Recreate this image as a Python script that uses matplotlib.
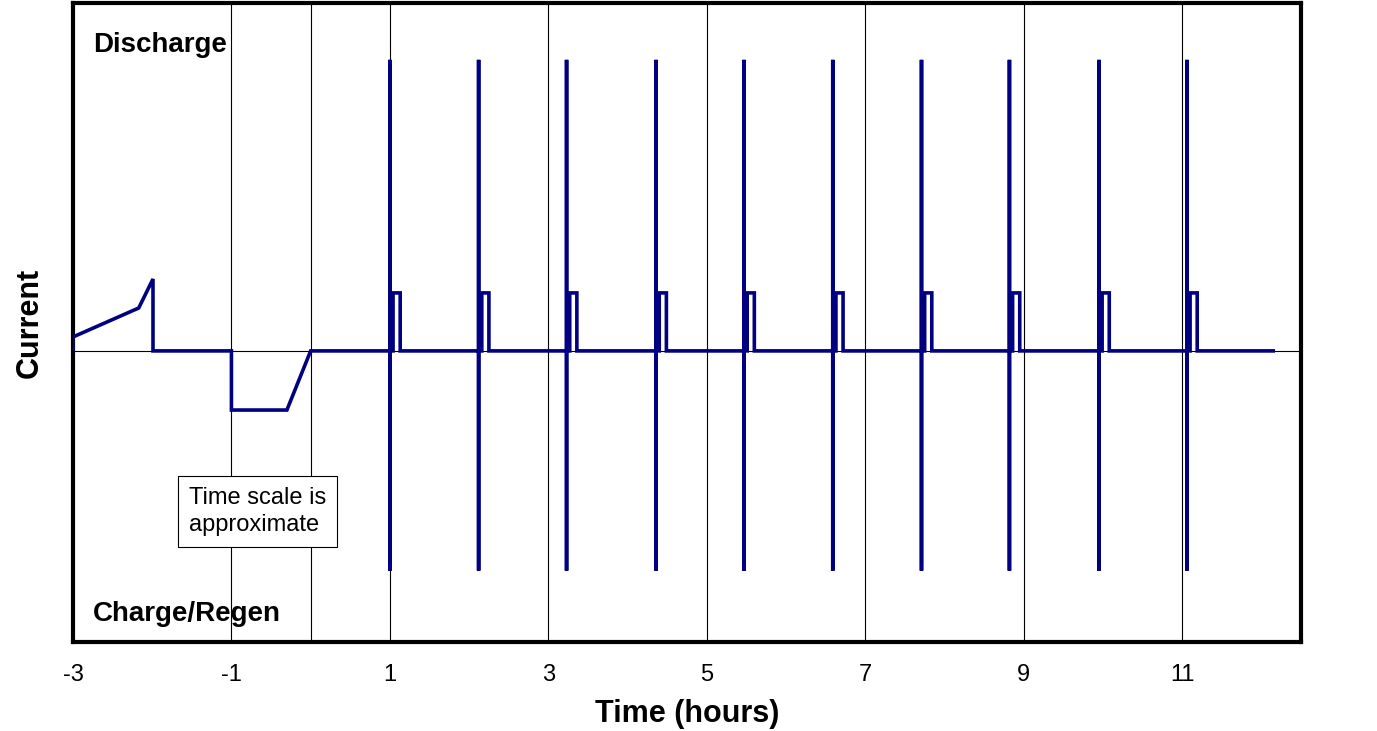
import numpy as np
import matplotlib.pyplot as plt

plt.rcParams['font.family'] = ['Liberation Sans', 'DejaVu Sans']
plt.rcParams['axes.unicode_minus'] = False

# lead-in part of the profile (hours, relative current)
pre_t = [-3.0, -3.0, -2.17, -1.99, -1.99, -1.0, -1.0, -0.30, 0.0, 1.0]
pre_i = [0.0, 0.24, 0.74, 1.24, 0.0, 0.0, -1.02, -1.02, 0.0, 0.0]

# repeated pulses
spike_t = [1.0, 2.12, 3.23, 4.36, 5.47, 6.59, 7.71, 8.82, 9.95, 11.06]
spike_hi = 5.02
spike_lo = -3.79
step_level = 1.0
step_on = 0.04
step_off = 0.13
end_t = 12.15

xticks = [-3, -1, 1, 3, 5, 7, 9, 11]

t = list(pre_t)
cur = list(pre_i)
for s in spike_t:
    t += [s, s, s, s, s + step_on, s + step_on, s + step_off, s + step_off]
    cur += [0, spike_hi, spike_lo, 0, 0, step_level, step_level, 0]
t.append(end_t)
cur.append(0)

fig = plt.figure(figsize=(13.77, 7.31), dpi=100)
ax = fig.add_axes([0.053, 0.1218, 0.8918, 0.8741])

ax.set_xlim(-3, 12.5)
ax.set_ylim(-5.02, 6.0)
ax.set_xticks(xticks)
ax.set_yticks([])
ax.tick_params(axis='x', length=0, pad=16, labelsize=17)
ax.grid(axis='x', color='black', lw=0.8)
ax.axvline(0, color='black', lw=0.8)
ax.axhline(0, color='black', lw=0.8)
ax.set_axisbelow(True)

ax.plot(t, cur, color='#000080', lw=2.6, solid_joinstyle='miter', zorder=3)

for sp in ax.spines.values():
    sp.set_linewidth(3)

ax.set_xlabel('Time (hours)', fontsize=22, fontweight='bold', labelpad=9)
ax.set_ylabel('Current', fontsize=22, fontweight='bold', labelpad=20)

ax.text(-2.75, 5.28, 'Discharge', fontsize=20, fontweight='bold', va='center')
ax.text(-2.75, -4.54, 'Charge/Regen', fontsize=20, fontweight='bold', va='center')
ax.text(-1.54, -2.77, 'Time scale is\napproximate', fontsize=17, va='center',
        linespacing=1.35,
        bbox=dict(boxstyle='square,pad=0.45', fc='white', ec='black', lw=0.8),
        zorder=4)

fig.savefig('out.png', dpi=100)
